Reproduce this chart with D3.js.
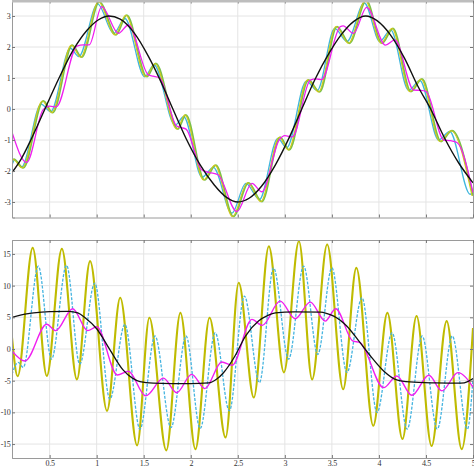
<!DOCTYPE html>
<html>
<head>
<meta charset="utf-8">
<script src="https://cdn.jsdelivr.net/npm/d3@7"></script>
<style>
  body { margin: 0; background: #fff; }
  svg { display: block; }
</style>
</head>
<body>
<div id="chart"></div>
<script>
// ---- data (x, y) ----
const xTicks = [0.5, 1, 1.5, 2, 2.5, 3, 3.5, 4, 4.5, 5];
const topYTicks = [-3, -2, -1, 0, 1, 2, 3];
const bottomYTicks = [-15, -10, -5, 0, 5, 10, 15];

const topBlack = [[0.1,-2.05],[0.2,-1.6],[0.3,-1.0],[0.45,0.0],[0.6,1.0],[0.75,1.9],[0.9,2.55],[1.02,2.88],[1.13,3.0],[1.25,2.9],[1.4,2.45],[1.55,1.7],[1.68,0.9],[1.81,0.0],[1.95,-0.95],[2.1,-1.8],[2.25,-2.45],[2.38,-2.85],[2.5,-3.0],[2.62,-2.88],[2.75,-2.5],[2.9,-1.8],[3.05,-0.9],[3.18,0.0],[3.32,0.95],[3.47,1.8],[3.6,2.4],[3.73,2.82],[3.86,3.0],[3.98,2.85],[4.12,2.4],[4.27,1.65],[4.42,0.7],[4.55,0.0],[4.7,-0.95],[4.85,-1.75],[5.0,-2.38]];

const topGreen = [[0.1,-1.72],[0.12,-1.62],[0.22,-1.9],[0.433,0.26],[0.533,-0.12],[0.741,2.06],[0.841,1.67],[1.029,3.46],[1.206,2.39],[1.32,3.03],[1.533,1.04],[1.629,1.47],[1.863,-0.65],[1.948,-0.19],[2.146,-2.29],[2.267,-1.81],[2.454,-3.47],[2.614,-2.38],[2.756,-2.99],[2.95,-0.91],[3.047,-1.32],[3.252,0.94],[3.37,0.55],[3.554,2.66],[3.688,2.12],[3.866,3.5],[4.033,2.12],[4.15,2.6],[4.34,0.56],[4.458,0.97],[4.66,-1.05],[4.777,-0.7],[5.0,-2.8]];

const topCyan = [[0.1,-1.8],[0.13,-1.65],[0.2,-1.88],[0.41,0.16],[0.51,-0.09],[0.72,1.96],[0.81,1.69],[1.01,3.39],[1.18,2.44],[1.3,2.92],[1.51,1.04],[1.61,1.42],[1.834,-0.52],[1.925,-0.25],[2.12,-2.2],[2.24,-1.88],[2.437,-3.36],[2.586,-2.4],[2.73,-2.92],[2.925,-0.95],[3.02,-1.25],[3.228,0.9],[3.345,0.6],[3.53,2.6],[3.66,2.18],[3.845,3.42],[4.01,2.18],[4.125,2.55],[4.315,0.6],[4.435,0.92],[4.635,-1.0],[4.752,-0.72],[4.97,-2.75],[5.0,-2.7]];

const topMagenta = [[0.1,-0.75],[0.256,-1.72],[0.43,-0.03],[0.5,0.09],[0.57,0.07],[0.79,2.03],[0.86,2.07],[0.92,2.07],[1.054,3.3],[1.231,2.44],[1.337,2.71],[1.55,1.1],[1.6,1.06],[1.67,1.0],[1.85,-0.55],[1.9,-0.6],[1.95,-0.65],[2.118,-1.97],[2.2,-2.05],[2.29,-2.12],[2.49,-3.31],[2.65,-2.4],[2.756,-2.67],[2.94,-1.0],[3.0,-0.86],[3.08,-0.9],[3.27,0.93],[3.33,0.97],[3.39,0.95],[3.59,2.66],[3.62,2.68],[3.73,2.44],[3.87,3.28],[4.07,2.06],[4.17,2.23],[4.37,0.61],[4.44,0.6],[4.5,0.57],[4.69,-1.0],[4.76,-1.02],[4.83,-1.08],[5.0,-2.7]];

const bottomBlack = [[0.1,5.0],[0.2,5.4],[0.33,5.7],[0.5,5.9],[0.7,5.95],[0.8,5.7],[0.88,4.9],[1.0,3.2],[1.14,-0.1],[1.28,-3.3],[1.38,-4.6],[1.46,-5.15],[1.6,-5.4],[1.8,-5.45],[2.0,-5.45],[2.19,-5.35],[2.28,-4.7],[2.35,-3.7],[2.47,-1.1],[2.58,2.0],[2.72,4.4],[2.82,5.3],[2.9,5.7],[3.1,5.85],[3.38,5.83],[3.45,5.6],[3.52,5.2],[3.66,3.6],[3.8,1.0],[3.91,-1.1],[4.05,-3.46],[4.19,-4.88],[4.33,-5.2],[4.6,-5.35],[4.87,-5.4],[4.95,-5.1],[5.0,-4.67]];

const bottomMagenta = [[0.1,-0.3],[0.238,-1.9],[0.469,3.9],[0.565,2.9],[0.745,6.35],[0.905,2.9],[1.0,3.5],[1.22,-4.1],[1.337,-3.5],[1.52,-7.4],[1.71,-4.6],[1.85,-6.9],[2.01,-4.0],[2.15,-6.25],[2.33,-2.05],[2.44,-2.57],[2.65,4.67],[2.76,3.73],[2.95,7.56],[3.11,4.77],[3.27,7.4],[3.43,4.4],[3.54,6.35],[3.72,1.3],[3.8,1.0],[4.05,-6.1],[4.19,-4.25],[4.35,-7.3],[4.53,-4.15],[4.67,-6.6],[4.84,-3.73],[5.0,-6.0]];

const bottomCyan = [[0.1,-4.0],[0.165,-2.1],[0.22,-2.9],[0.38,13.07],[0.52,-1.6],[0.68,13.2],[0.82,-2.4],[0.98,10.4],[1.14,-7.9],[1.3,3.9],[1.46,-12.65],[1.62,2.05],[1.79,-12.4],[1.95,2.05],[2.1,-12.55],[2.26,2.57],[2.41,-9.76],[2.57,8.35],[2.73,-5.3],[2.88,12.8],[3.04,-1.6],[3.2,13.07],[3.35,-0.84],[3.5,12.8],[3.66,-3.7],[3.82,8.1],[3.98,-10.0],[4.14,2.57],[4.3,-12.65],[4.46,2.05],[4.62,-12.65],[4.78,2.05],[4.94,-12.65],[5.0,-4.7]];

const bottomYellow = [[0.1,1.8],[0.16,-4.3],[0.32,15.95],[0.47,-4.25],[0.63,15.8],[0.79,-4.8],[0.93,13.86],[1.11,-9.76],[1.25,8.08],[1.43,-15.2],[1.56,4.93],[1.74,-16.0],[1.89,5.7],[2.05,-15.8],[2.2,4.93],[2.37,-13.96],[2.51,10.45],[2.67,-7.66],[2.83,16.2],[2.99,-3.7],[3.15,17.0],[3.29,-4.8],[3.45,16.5],[3.62,-6.35],[3.76,12.8],[3.94,-12.1],[4.09,5.7],[4.25,-14.2],[4.4,5.2],[4.56,-15.3],[4.72,4.4],[4.88,-15.8],[5.0,3.3]];

// ---- layout ----
const width = 474;
const height = 467;
const xDomain = [0.1, 5];
const xRange = [12, 473];

const svg = d3.select('#chart').append('svg')
  .attr('width', width)
  .attr('height', height);
const defs = svg.append('defs');

const x = d3.scaleLinear().domain(xDomain).range(xRange);

function drawPanel(id, yDomain, yRange, yTicks, series, showXLabels) {
  const y = d3.scaleLinear().domain(yDomain).range(yRange);
  const top = yRange[1];
  const bottom = yRange[0];
  const left = xRange[0];
  const right = xRange[1];
  const g = svg.append('g');

  // Grid lines
  g.append('g').selectAll('line')
    .data(xTicks.filter(t => t < xDomain[1]))
    .join('line')
    .attr('x1', d => x(d)).attr('x2', d => x(d))
    .attr('y1', top).attr('y2', bottom)
    .attr('stroke', '#e4e4e4');
  g.append('g').selectAll('line')
    .data(yTicks)
    .join('line')
    .attr('x1', left).attr('x2', right)
    .attr('y1', d => y(d)).attr('y2', d => y(d))
    .attr('stroke', '#e4e4e4');

  // Clip for the curves
  defs.append('clipPath').attr('id', 'clip-' + id)
    .append('rect')
    .attr('x', left).attr('y', top)
    .attr('width', right - left).attr('height', bottom - top);

  const line = d3.line()
    .x(d => x(d[0]))
    .y(d => y(d[1]))
    .curve(d3.curveMonotoneX);

  const plot = g.append('g').attr('clip-path', `url(#clip-${id})`);
  series.forEach(s => {
    plot.append('path')
      .attr('d', line(s.data))
      .attr('fill', 'none')
      .attr('stroke', s.color)
      .attr('stroke-width', s.width)
      .attr('stroke-dasharray', s.dash || null)
      .attr('stroke-linejoin', 'round')
      .attr('transform', s.shift ? `translate(${s.shift},0)` : null);
  });

  // Axes (ticks point inward)
  const fmt = d => String(d);
  const axisStyle = sel => {
    sel.select('.domain').attr('stroke', '#9a9a9a');
    sel.selectAll('.tick line').attr('stroke', '#777');
    sel.selectAll('.tick text')
      .attr('fill', '#333')
      .style('font-family', '"Liberation Serif", "DejaVu Serif", serif')
      .style('font-size', '8px')
      .style('letter-spacing', '-0.3px');
  };

  g.append('g')
    .attr('transform', `translate(${left},0)`)
    .call(d3.axisLeft(y).tickValues(yTicks).tickSize(-3).tickPadding(1.5).tickFormat(fmt))
    .call(axisStyle);
  g.append('g')
    .attr('transform', `translate(${right},0)`)
    .call(d3.axisRight(y).tickValues(yTicks).tickSize(-3).tickFormat(''))
    .call(axisStyle);
  g.append('g')
    .attr('transform', `translate(0,${top})`)
    .call(d3.axisTop(x).tickValues(xTicks).tickSize(-3).tickFormat(''))
    .call(axisStyle);
  const xAxis = g.append('g')
    .attr('transform', `translate(0,${bottom})`)
    .call(d3.axisBottom(x).tickValues(xTicks).tickSize(-3).tickPadding(2)
      .tickFormat(showXLabels ? fmt : ''))
    .call(axisStyle);
  // keep the last label inside the window
  xAxis.selectAll('.tick text')
    .filter(d => d === xDomain[1])
    .attr('text-anchor', 'end')
    .attr('dx', '2');

  return g;
}

// Top panel
const topPanel = drawPanel('top', [-3.5, 3.5], [217.5, 0.5], topYTicks, [
  { data: topCyan, color: '#3fb6dd', width: 1.3 },
  { data: topGreen, color: '#78c04a', width: 1.7 },
  { data: topGreen, color: '#cfc81a', width: 1.1, shift: -1 },
  { data: topMagenta, color: '#f01ef0', width: 1.3 },
  { data: topBlack, color: '#111', width: 1.4 }
], false);

// Thick grey band on the top edge of the first panel
topPanel.append('rect')
  .attr('x', xRange[0]).attr('y', 0)
  .attr('width', xRange[1] - xRange[0]).attr('height', 2.5)
  .attr('fill', '#bdbdbd');

// Bottom panel
drawPanel('bottom', [-17.2, 17.2], [458, 240], bottomYTicks, [
  { data: bottomYellow, color: '#bfbb00', width: 2.1 },
  { data: bottomCyan, color: '#45b4e0', width: 1.3, dash: '3,1.5' },
  { data: bottomMagenta, color: '#f01ef0', width: 1.4 },
  { data: bottomBlack, color: '#111', width: 1.3 }
], true);
</script>
</body>
</html>
